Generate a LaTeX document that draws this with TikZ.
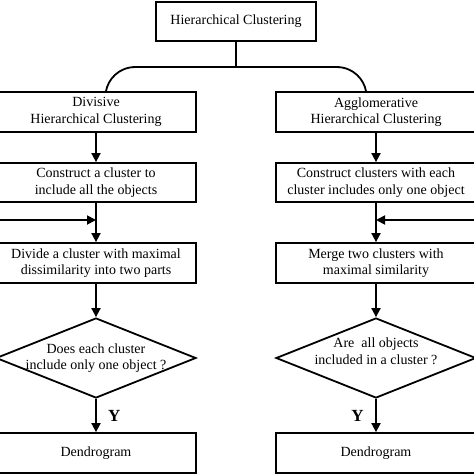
\documentclass[tikz,border=0pt]{standalone}
\usepackage{fontspec}
\setmainfont{Liberation Serif}
\usetikzlibrary{arrows.meta,shapes.geometric}
\begin{document}
\begin{tikzpicture}[x=1pt,y=-1pt,
  every node/.style={font=\fontsize{14}{16.5}\selectfont, align=center},
  box/.style={draw, line width=1.8pt, rectangle, minimum width=200pt, minimum height=40pt, inner sep=0pt},
  dia/.style={draw, line width=1.8pt, diamond, minimum width=200pt, minimum height=80pt, inner sep=0pt},
  conn/.style={line width=1.8pt},
  ylab/.style={font=\fontsize{17}{18}\selectfont\bfseries},
  arr/.style={line width=1.8pt, -{Triangle[length=9pt,width=9pt]}}]
\useasboundingbox (0,0) rectangle (474,474);
% top
\node[box, minimum width=160pt, minimum height=39pt] (top) at (236,21.5) {Hierarchical Clustering};
% left column
\node[box] (l1) at (96,112) {Divisive\\Hierarchical Clustering};
\node[box, minimum height=39pt] (l2) at (96,182.5) {Construct a cluster to\\include all the objects};
\node[box] (l3) at (96,263) {Divide a cluster with maximal\\dissimilarity into two parts};
\node[dia] (l4) at (96,358) {};
\node (l4t) at (96,358) {Does each cluster\\include only one object ?};
\node[box] (l5) at (96,453) {Dendrogram};
% right column
\node[box] (r1) at (376,112) {Agglomerative\\Hierarchical Clustering};
\node[box, minimum height=39pt] (r2) at (376,182.5) {Construct clusters with each\\cluster includes only one object};
\node[box] (r3) at (376,263) {Merge two clusters with\\maximal similarity};
\node[dia] (r4) at (376,358) {};
\node (r4t) at (376,351) {Are\ \ all objects\\included in a cluster ?};
\node[box] (r5) at (376,453) {Dendrogram};
% tree split
\draw[conn] (top.south) |- (136,67) .. controls (118,67) and (108,80) .. ([xshift=10pt]l1.north);
\draw[conn] (top.south) |- (336,67) .. controls (354,67) and (364,80) .. ([xshift=-10pt]r1.north);
% left arrows
\draw[arr] (l1) -- (l2);
\draw[arr] (l2) -- (l3);
\draw[arr] (l3) -- (l4);
\draw[arr] (l4) -- node[right=8pt, ylab] (ly) {Y} (l5);
\coordinate (lin) at (0,220);
\draw[arr] (lin) -- (lin -| l2.south);
% right arrows
\draw[arr] (r1) -- (r2);
\draw[arr] (r2) -- (r3);
\draw[arr] (r3) -- (r4);
\draw[arr] (r4) -- node[left=8pt, ylab] (ry) {Y} (r5);
\coordinate (rin) at (474,220);
\draw[arr] (rin) -- (rin -| r2.south);
\end{tikzpicture}
\end{document}
